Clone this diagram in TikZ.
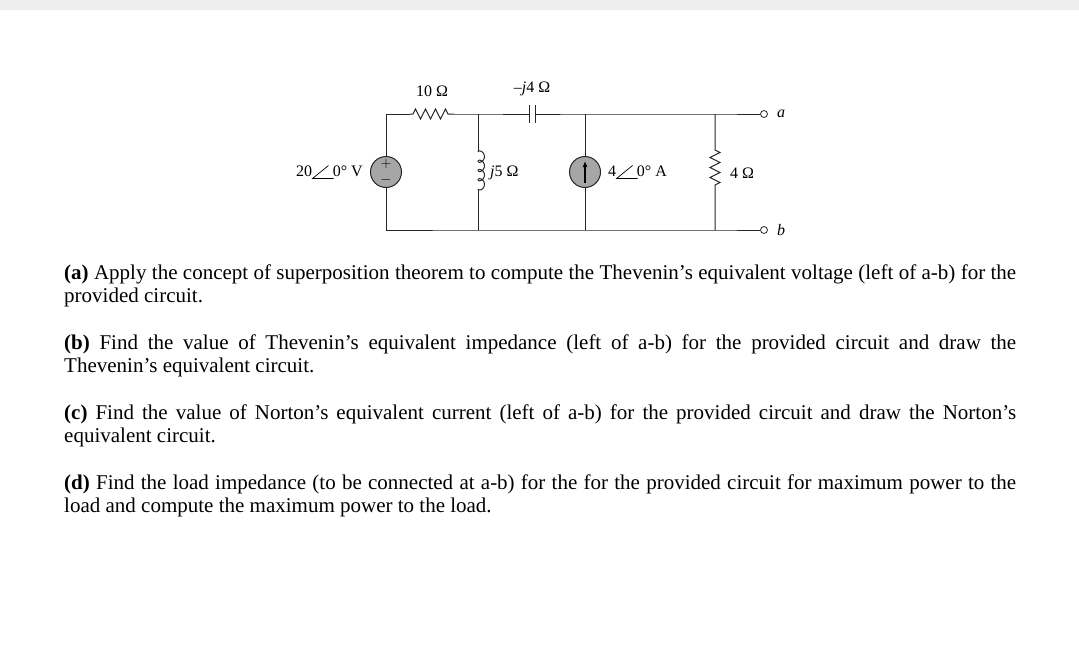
\documentclass[tikz,border=0pt]{standalone}
\usepackage{fontspec}
\setmainfont{Liberation Serif}
\usetikzlibrary{arrows.meta}
\newcommand{\mynohyph}{\hyphenpenalty 10000 \exhyphenpenalty 10000 \relax}
\begin{document}
\begin{tikzpicture}[x=1pt,y=-1pt,
  wire/.style={line width=1pt,black!85},
  lbl/.style={font=\fontsize{16}{18}\selectfont,inner sep=1pt},
  src/.style={circle,draw=black!85,line width=1pt,fill=black!35,minimum size=31pt,inner sep=0pt},
  term/.style={circle,draw=black!85,line width=0.8pt,fill=white,minimum size=7pt,inner sep=0pt},
  para/.style={text width=952pt,align=justify,font=\fontsize{21}{22.5}\selectfont\mynohyph,inner sep=0pt,anchor=north west}]
\useasboundingbox (0,0) rectangle (1079,664);
\fill[black!7] (0,0) rectangle (1079,10);
\coordinate (tl) at (386,114); \coordinate (bl) at (386,230);
\coordinate (r1a) at (410,114); \coordinate (r1b) at (454,114);
\coordinate (t2) at (478,114); \coordinate (b2) at (478,230);
\coordinate (c1) at (529,114); \coordinate (c2) at (535,114);
\coordinate (t3) at (585,114); \coordinate (b3) at (585,230);
\coordinate (t4) at (715,114); \coordinate (b4) at (715,230);
\node[term] (a) at (764,114) {};
\node[term] (b) at (764,230) {};
\node[src] (vs) at (386,172) {};
\node[src] (is) at (585,172) {};
\draw[wire] (vs) -- (tl) -- (r1a);
\draw[wire] (vs) -- (bl) -- (b2) -- (b3) -- (b4) -- (b);
\draw[wire] (r1a) -- ++(3,0) -- ++(2.5,-5) -- ++(5,10) -- ++(5,-10) -- ++(5,10) -- ++(5,-10) -- ++(5,10) -- ++(5,-10) -- ++(2.5,5) -- (r1b);
\draw[wire] (r1b) -- (t2) -- (c1);
\draw[wire] (c1) ++(0,-9) -- ++(0,18);
\draw[wire] (c2) ++(0,-9) -- ++(0,18);
\draw[wire] (c2) -- (t3) -- (t4) -- (a);
\draw[wire] (t2) -- (478,152);
\draw[wire,smooth,samples=120,domain=0:25.13] plot ({478+3.2*(1-cos(\x r))},{152+1.47*\x-3*sin(\x r)});
\draw[wire] (478,189) -- (b2);
\draw[wire] (t3) -- (is) -- (b3);
\draw[-{Latex[length=6pt,width=5pt]},line width=1.5pt] (585,183) -- (585,161);
\node[font=\fontsize{14}{14}\selectfont] at (386,164) {$+$};
\node[font=\fontsize{14}{14}\selectfont] at (386,180) {$-$};
\draw[wire] (t4) -- (715,150) -- ++(5,2.5) -- ++(-10,5) -- ++(10,5) -- ++(-10,5) -- ++(10,5) -- ++(-10,5) -- ++(10,5) -- ++(-5,2.5) -- (b4);
\node[lbl] (l10) at (432,91) {10 Ω};
\node[lbl] (lc) at (532,89) {\textit{–j}4 Ω};
\node[lbl,anchor=west] (ll) at (489,173) {\textit{j}5 Ω};
\node[lbl,anchor=west] (lr) at (729,173) {4 Ω};
\node[lbl,anchor=west] (la) at (776,114) {\textit{a}};
\node[lbl,anchor=west] (lb) at (776,230) {\textit{b}};
\node[lbl,anchor=east] (lv) at (364,172) {20\tikz[baseline=0pt,x=1pt,y=1pt]\draw[line width=0.7pt] (17,11)--(1,-2)--(22,-2);\hspace{-1pt}0° V};
\node[lbl,anchor=west] (li) at (607,172) {4\tikz[baseline=0pt,x=1pt,y=1pt]\draw[line width=0.7pt] (17,11)--(1,-2)--(22,-2);\hspace{-1pt}0° A};
\node[para] (pa) at (64,265) {\textbf{(a)} Apply the concept of superposition theorem to compute the Thevenin’s equivalent voltage (left of a-b) for the provided circuit.};
\node[para] (pb) at (64,335) {\textbf{(b)} Find the value of Thevenin’s equivalent impedance (left of a-b) for the provided circuit and draw the\linebreak Thevenin’s equivalent circuit.};
\node[para] (pc) at (64,405) {\textbf{(c)} Find the value of Norton’s equivalent current (left of a-b) for the provided circuit and draw the Norton’s equivalent circuit.};
\node[para] (pd) at (64,475) {\textbf{(d)} Find the load impedance (to be connected at a-b) for the for the provided circuit for maximum power to the load and compute the maximum power to the load.};
\end{tikzpicture}
\end{document}
